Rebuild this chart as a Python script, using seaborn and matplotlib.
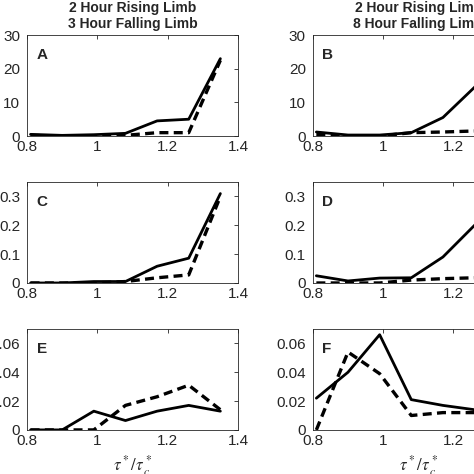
import numpy as np
import pandas as pd
import matplotlib
matplotlib.use("Agg")
import matplotlib.pyplot as plt
import seaborn as sns

sns.set_style("white")
plt.rcParams['font.family'] = ['Liberation Sans', 'DejaVu Sans']
plt.rcParams['mathtext.fontset'] = 'stix'

# tau*/tau*c
x_vals = [0.81, 0.90, 0.99, 1.08, 1.17, 1.26, 1.35]

# 2 h rising / 3 h falling (left column)
a_solid = [0.5, 0.2, 0.4, 0.8, 4.5, 5.0, 23.0]
a_dash = [0.2, 0.0, 0.0, 0.2, 1.0, 1.0, 22.5]
c_solid = [0.0, 0.0, 0.005, 0.005, 0.058, 0.086, 0.31]
c_dash = [0.0, 0.0, 0.0, 0.005, 0.018, 0.028, 0.30]
e_solid = [0.0, 0.0, 0.013, 0.0065, 0.013, 0.017, 0.013]
e_dash = [0.0, 0.0, 0.0, 0.017, 0.023, 0.031, 0.014]

# 2 h rising / 8 h falling (right column)
b_solid = [1.2, 0.3, 0.3, 1.0, 5.5, 14.5, 26.0]
b_dash = [0.5, 0.0, 0.0, 1.0, 1.2, 1.5, 2.0]
d_solid = [0.025, 0.007, 0.017, 0.018, 0.09, 0.20, 0.30]
d_dash = [0.0, 0.0, 0.0, 0.01, 0.015, 0.018, 0.02]
f_solid = [0.022, 0.040, 0.066, 0.021, 0.017, 0.014, 0.012]
f_dash = [0.0, 0.054, 0.039, 0.010, 0.012, 0.012, 0.012]

col_titles = ['2 Hour Rising Limb\n3 Hour Falling Limb',
              '2 Hour Rising Limb\n8 Hour Falling Limb']
letters = ['A', 'B', 'C', 'D', 'E', 'F']
ylims = [30, 0.35, 0.07]
yticks = [[0, 10, 20, 30], [0, 0.1, 0.2, 0.3], [0, 0.02, 0.04, 0.06]]
ytick_labels = [['0', '10', '20', '30'], ['0', '0.1', '0.2', '0.3'],
                ['0', '0.02', '0.04', '0.06']]

panels = [(a_solid, a_dash), (b_solid, b_dash),
          (c_solid, c_dash), (d_solid, d_dash),
          (e_solid, e_dash), (f_solid, f_dash)]

fig = plt.figure(figsize=(4.74, 4.74), dpi=100)
lefts = [0.057, 0.660]
bottoms = [0.713, 0.403, 0.093]
w, h = 0.445, 0.213
txt = '#262626'

for i, (solid, dash) in enumerate(panels):
    r, c = divmod(i, 2)
    ax = fig.add_axes([lefts[c], bottoms[r], w, h])
    sns.lineplot(x=x_vals, y=solid, ax=ax, color='black', lw=2.0)
    sns.lineplot(x=x_vals, y=dash, ax=ax, color='black', lw=2.4,
                 dashes=False, linestyle=(0, (2.7, 1.6)))
    ax.set_xlim(0.8, 1.4)
    ax.set_ylim(0, ylims[r])
    ax.set_xticks([0.8, 1.0, 1.2, 1.4])
    ax.set_xticklabels(['0.8', '1', '1.2', '1.4'])
    ax.set_yticks(yticks[r])
    ax.set_yticklabels(ytick_labels[r])
    ax.tick_params(direction='in', top=True, right=True, length=3,
                   width=0.6, labelsize=11, colors=txt)
    ax.tick_params(axis='y', pad=5)
    ax.tick_params(axis='x', pad=3)
    for s in ax.spines.values():
        s.set_color('#262626')
        s.set_linewidth(0.6)
    ax.text(0.045, 0.80, letters[i], transform=ax.transAxes,
            fontsize=11, fontweight='bold', va='center', ha='left')
    if r == 0:
        ax.set_title(col_titles[c], fontsize=10, fontweight='bold',
                     pad=5, linespacing=1.2)
    if r == 2:
        ax.set_xlabel(r'$\tau^*/\tau^*_{\,c}$', fontsize=12, color=txt,
                      labelpad=4)

fig.savefig('out.png', dpi=100)
